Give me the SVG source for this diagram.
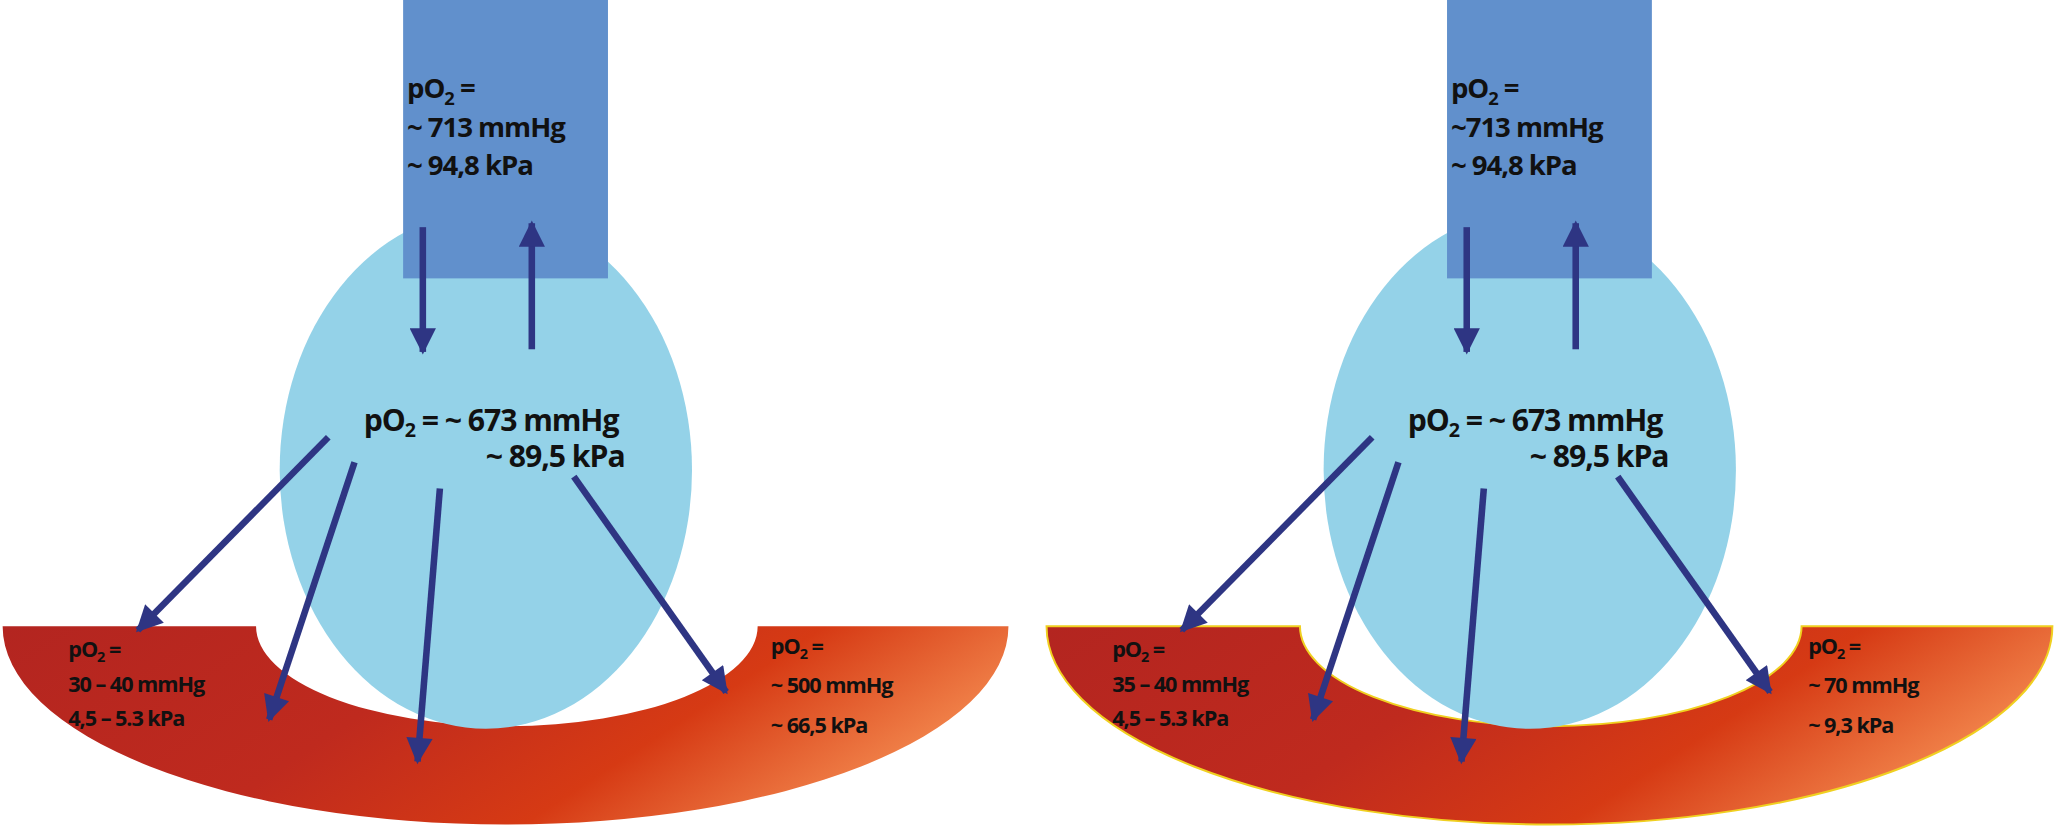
<svg xmlns="http://www.w3.org/2000/svg" width="2059" height="829" viewBox="0 0 2059 829">
<defs>
<linearGradient id="rg" x1="0" y1="0" x2="1" y2="0.3">
<stop offset="0" stop-color="#b32520"/><stop offset="0.45" stop-color="#bf2a1e"/><stop offset="0.75" stop-color="#d63a14"/><stop offset="1" stop-color="#f08048"/>
</linearGradient>
<marker id="ah" viewBox="0 0 10 10" refX="9" refY="5" markerWidth="4.4" markerHeight="4" orient="auto" markerUnits="strokeWidth"><path d="M0,0 L10,5 L0,10 Z" fill="#2e3583"/></marker>
</defs>
<style>
.t{font-family:"Open Sans","Noto Sans",sans-serif;font-weight:bold;fill:#111;letter-spacing:-0.8px}
.a{stroke:#2e3583;stroke-width:5;fill:none;marker-end:url(#ah)}
</style>
<g transform="scale(1.3131)">
<g id="left">
<g id="ring-l"><path d="M2,477 L195,477 A191,76 0 0 0 577,477 L768,477 A383,151 0 0 1 2,477 Z" fill="url(#rg)"/></g>
<g id="circle-l"><ellipse cx="370" cy="358" rx="157" ry="197" fill="#94d2e8"/></g>
<g id="rect-l"><rect x="307" y="0" width="156" height="212" fill="#6190cc"/></g>
<g id="conn-l">
<line class="a" x1="322" y1="173" x2="322" y2="268"/>
<line class="a" x1="405" y1="266" x2="405" y2="170"/>
<line class="a" x1="250" y1="333" x2="105" y2="480"/>
<line class="a" x1="270" y1="352" x2="205" y2="548"/>
<line class="a" x1="335" y1="372" x2="318" y2="580"/>
<line class="a" x1="437" y1="363" x2="553" y2="527"/>
</g>
<g id="txt-l">
<text class="t" font-size="21"><tspan x="310" y="75">pO<tspan font-size="14" dy="5">2</tspan><tspan dy="-5"> =</tspan></tspan><tspan x="310" y="104">~ 713 mmHg</tspan><tspan x="310" y="133">~ 94,8 kPa</tspan></text>
<text class="t" font-size="23"><tspan x="277" y="328">pO<tspan font-size="15" dy="5">2</tspan><tspan dy="-5"> = ~ 673 mmHg</tspan></tspan><tspan x="370" y="356">~ 89,5 kPa</tspan></text>
<text class="t" font-size="16.5"><tspan x="52" y="500">pO<tspan font-size="11" dy="4">2</tspan><tspan dy="-4"> =</tspan></tspan><tspan x="52" y="527">30 – 40 mmHg</tspan><tspan x="52" y="553">4,5 – 5.3 kPa</tspan></text>
<text class="t" font-size="16.5"><tspan x="587" y="498">pO<tspan font-size="11" dy="4">2</tspan><tspan dy="-4"> =</tspan></tspan><tspan x="587" y="528">~ 500 mmHg</tspan><tspan x="587" y="558">~ 66,5 kPa</tspan></text>
</g>
</g>
<g id="right" transform="translate(795,0)">
<g id="ring-r"><path d="M2,477 L195,477 A191,76 0 0 0 577,477 L768,477 A383,151 0 0 1 2,477 Z" fill="url(#rg)" stroke="#f0d020" stroke-width="1.5"/></g>
<g id="circle-r"><ellipse cx="370" cy="358" rx="157" ry="197" fill="#94d2e8"/></g>
<g id="rect-r"><rect x="307" y="0" width="156" height="212" fill="#6190cc"/></g>
<g id="conn-r">
<line class="a" x1="322" y1="173" x2="322" y2="268"/>
<line class="a" x1="405" y1="266" x2="405" y2="170"/>
<line class="a" x1="250" y1="333" x2="105" y2="480"/>
<line class="a" x1="270" y1="352" x2="205" y2="548"/>
<line class="a" x1="335" y1="372" x2="318" y2="580"/>
<line class="a" x1="437" y1="363" x2="553" y2="527"/>
</g>
<g id="txt-r">
<text class="t" font-size="21"><tspan x="310" y="75">pO<tspan font-size="14" dy="5">2</tspan><tspan dy="-5"> =</tspan></tspan><tspan x="310" y="104">~713 mmHg</tspan><tspan x="310" y="133">~ 94,8 kPa</tspan></text>
<text class="t" font-size="23"><tspan x="277" y="328">pO<tspan font-size="15" dy="5">2</tspan><tspan dy="-5"> = ~ 673 mmHg</tspan></tspan><tspan x="370" y="356">~ 89,5 kPa</tspan></text>
<text class="t" font-size="16.5"><tspan x="52" y="500">pO<tspan font-size="11" dy="4">2</tspan><tspan dy="-4"> =</tspan></tspan><tspan x="52" y="527">35 – 40 mmHg</tspan><tspan x="52" y="553">4,5 – 5.3 kPa</tspan></text>
<text class="t" font-size="16.5"><tspan x="582" y="498">pO<tspan font-size="11" dy="4">2</tspan><tspan dy="-4"> =</tspan></tspan><tspan x="582" y="528">~ 70 mmHg</tspan><tspan x="582" y="558">~ 9,3 kPa</tspan></text>
</g>
</g>
</g>
</svg>
